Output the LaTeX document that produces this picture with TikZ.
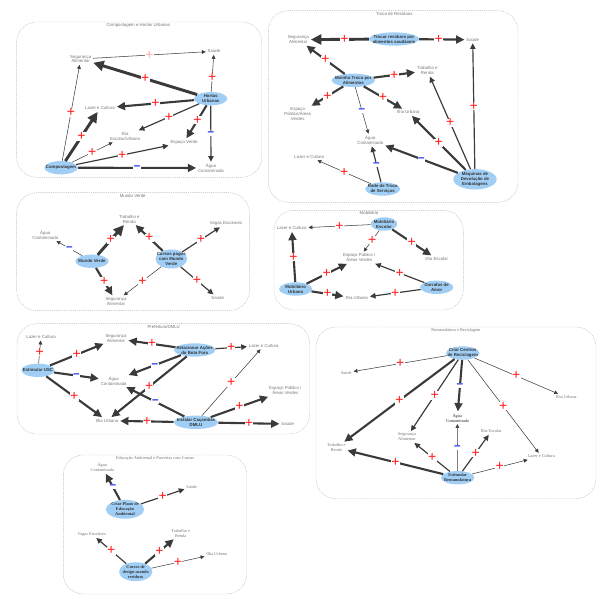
\documentclass[tikz,border=0pt]{standalone}
\usepackage{fontspec}
\setmainfont{Liberation Sans}
\newfontfamily\seriffam{Liberation Serif}
\usetikzlibrary{shapes.geometric,arrows.meta}
\definecolor{hubblue}{RGB}{160,206,245}
\definecolor{edgegray}{RGB}{58,58,58}
\definecolor{vargray}{RGB}{118,118,118}
\definecolor{plusred}{RGB}{255,25,25}
\definecolor{minusblue}{RGB}{25,45,230}
\newcommand{\smallest}{\fontsize{3.7}{4.2}\selectfont}

\begin{document}
\begin{tikzpicture}[
  x=0.03cm, y=-0.03cm,
  group/.style={draw=black!28, dash pattern=on 1pt off 0.8pt, line width=0.35pt, rounded corners=0.6cm},
  gtitle/.style={font=\smallest, text=black!55, inner sep=0.5pt, anchor=north},
  var/.style={font=\smallest, text=vargray, align=center, inner sep=1.5pt},
  hub/.style={ellipse, fill=hubblue, font=\smallest\bfseries, text=black!80, align=center,
    inner xsep=-3pt, inner ysep=0.2pt, minimum width=1cm, minimum height=0.4cm},
  gts/.style={gtitle, font=\seriffam\smallest},
  vs/.style={var, font=\seriffam\smallest},
  hs/.style={hub, font=\seriffam\smallest\bfseries},
  lnk/.style={draw=edgegray, -{Triangle[length=2pt 2.8, width=2pt 2.6]}},
  w1/.style={lnk, line width=0.45pt},
  w2/.style={lnk, line width=1pt},
  w3/.style={lnk, line width=1.8pt},
  w4/.style={lnk, line width=2.5pt},
  sgnp/.style={fill=white, inner sep=0.2pt, text=plusred, font=\fontsize{12}{12}\selectfont},
  sgnm/.style={fill=white, inner sep=0.5pt, text=minusblue, font=\fontsize{10}{10}\selectfont\bfseries}
]
\useasboundingbox (0,0) rectangle (597,600);

% Compostagem e Hortas Urbanas
\draw[group] (16.7,22) rectangle (261.7,177.3);
\node[gtitle] (t1) at (138.3,22.5) {Compostagem e Hortas Urbanas};
\node[var] (cSeg) at (80.7,59) {Segurança\\Alimentar};
\node[var] (cSau) at (214,51.3) {Saúde};
\node[hub] (cHor) at (210.7,98.7) {Hortas\\Urbanas};
\node[var] (cLaz) at (100,108.3) {Lazer e Cultura};
\node[var] (cIlh) at (125,136.3) {Ilha\\Escolar/Urbana};
\node[var] (cEsp) at (184,142.3) {Espaço Verde};
\node[hub] (cCom) at (61,167.7) {Compostagem};
\node[var] (cAgu) at (211,168) {Água\\Contaminada};
\draw[w1] (cSeg) -- node[sgnp, text=plusred!35] {+} (cSau);
\draw[w1] (cHor) -- node[sgnp, pos=0.4] {+} (cSau);
\draw[w4] (cHor) -- node[sgnp] {+} (cSeg);
\draw[w3] (cHor) -- node[sgnp] {+} (cLaz);
\draw[w2] (cHor) -- node[sgnp] {+} (cIlh);
\draw[w3] (cHor) -- node[sgnp, pos=0.45] {+} (cEsp);
\draw[w2] (cHor) -- node[sgnm] {--} (cAgu);
\draw[w1] (cCom) -- node[sgnp] {+} (cSeg);
\draw[w4] (cCom) -- node[sgnp] {+} (cLaz);
\draw[w1] (cCom) -- node[sgnp] {+} (cIlh);
\draw[w2] (cCom) -- node[sgnp] {+} (cEsp);
\draw[w3] (cCom) -- node[sgnm] {--} (cAgu);

% Troca de Residuos
\draw[group] (268.3,10.7) rectangle (518,202.3);
\node[gtitle] (t2) at (394.3,11.2) {Troca de Resíduos};
\node[hub, minimum width=1.4cm] (tTro) at (394,39) {Trocar resíduos por\\alimentos saudáveis};
\node[var] (tSeg) at (298.3,39.7) {Segurança\\Alimentar};
\node[var] (tSau) at (472.7,39.7) {Saúde};
\node[hub, minimum width=1.3cm] (tMoi) at (353.3,80.3) {Moinho Troca por\\Alimentos};
\node[var] (tTra) at (427.3,70.7) {Trabalho e\\Renda};
\node[var] (tEsp) at (297.7,114.3) {Espaço\\Público/Áreas\\Verdes};
\node[var] (tIlh) at (408.3,112.3) {Ilha Urbana};
\node[var] (tAgu) at (370.3,140) {Água\\Contaminada};
\node[var] (tLaz) at (309.3,156.7) {Lazer e Cultura};
\node[hub, minimum width=1.05cm] (tRed) at (382.7,189) {Rede de Troca\\de Serviços};
\node[hub, minimum width=1.3cm] (tMaq) at (475,179.3) {Máquinas de\\Devolução de\\Embalagens};
\draw[w4] (tTro) -- node[sgnp, pos=0.42] {+} (tSeg);
\draw[w3] (tTro) -- node[sgnp, pos=0.43] {+} (tSau);
\draw[w3] (tMoi) -- node[sgnp] {+} (tSeg);
\draw[w3] (tMoi) -- node[sgnp] {+} (tTra);
\draw[w3] (tMoi) -- node[sgnp] {+} (tEsp);
\draw[w3] (tMoi) -- node[sgnp] {+} (tIlh);
\draw[w1] (tMoi) -- node[sgnm] {--} (tAgu);
\draw[w1] (tRed) -- node[sgnp] {+} (tLaz);
\draw[w2] (tRed) -- node[sgnm] {--} (tAgu);
\draw[w3] (tMaq) -- node[sgnm] {--} (tAgu);
\draw[w3] (tMaq) -- node[sgnp] {+} (tIlh);
\draw[w2] (tMaq) -- node[sgnp] {+} (tTra);
\draw[w2] (tMaq) -- node[sgnp] {+} (tSau);

% Mundo Verde
\draw[group] (16.7,192.7) rectangle (249.3,310.7);
\node[gtitle] (t3) at (132.7,193.2) {Mundo Verde};
\node[var] (mTra) at (129.3,219) {Trabalho e\\Renda};
\node[var] (mAgu) at (45.3,234.7) {Água\\Contaminada};
\node[var] (mVag) at (226,223.3) {Vagas Escolares};
\node[hub] (mMun) at (92,261.3) {Mundo Verde};
\node[hub, minimum width=0.95cm] (mCur) at (171.3,259) {Cursos pagos\\com Mundo\\Verde};
\node[var] (mSeg) at (116,301.3) {Segurança\\Alimentar};
\node[var] (mSau) at (217.7,298) {Saúde};
\draw[w4] (mMun) -- node[sgnp] {+} (mTra);
\draw[w1] (mMun) -- node[sgnm] {--} (mAgu);
\draw[w3] (mMun) -- node[sgnp] {+} (mSeg);
\draw[w3] (mCur) -- node[sgnp] {+} (mTra);
\draw[w2] (mCur) -- node[sgnp] {+} (mVag);
\draw[w1] (mCur) -- node[sgnp] {+} (mSeg);
\draw[w2] (mCur) -- node[sgnp] {+} (mSau);

% Mobiliario
\draw[group] (274,210.3) rectangle (463.3,310);
\node[gtitle] (t4) at (369,210.8) {Mobiliário};
\node[hub, minimum width=0.8cm] (oEsc) at (384,224) {Mobiliário\\Escolar};
\node[var] (oLaz) at (291.7,228.3) {Lazer e Cultura};
\node[var] (oEsp) at (359.3,257.7) {Espaço Público /\\Áreas Verdes};
\node[var] (oIlE) at (436.7,259) {Ilha Escolar};
\node[hub] (oUrb) at (295.7,289) {Mobiliário\\Urbano};
\node[hub] (oGar) at (436.7,287.3) {Garrafas de\\Amor};
\node[var] (oIlU) at (356.7,298.3) {Ilha Urbana};
\draw[w1] (oEsc) -- node[sgnp] {+} (oLaz);
\draw[w1] (oEsc) -- node[sgnp, pos=0.45] {+} (oEsp);
\draw[w3] (oEsc) -- node[sgnp] {+} (oIlE);
\draw[w3] (oUrb) -- node[sgnp] {+} (oLaz);
\draw[w3] (oUrb) -- node[sgnp] {+} (oEsp);
\draw[w3] (oUrb) -- node[sgnp] {+} (oIlU);
\draw[w2] (oGar) -- node[sgnp] {+} (oEsp);
\draw[w2] (oGar) -- node[sgnp] {+} (oIlU);

% Prefeitura/DMLU
\draw[group] (17,323.7) rectangle (309.7,434);
\node[gtitle] (t5) at (163.7,324.2) {Prefeitura/DMLU};
\node[var] (pLaz) at (41,337) {Lazer e Cultura};
\node[hub] (pEst) at (38,370.3) {Estimular USC};
\node[var] (pSeg) at (116,338.7) {Segurança\\Alimentar};
\node[hub] (pRel) at (194.7,350) {Relacionar Ações\\do Bota Fora};
\node[var] (pLzR) at (263.7,345.7) {Lazer e Cultura};
\node[var] (pAgu) at (113.7,380.7) {Água\\Contaminada};
\node[var] (pEsp) at (285.3,390.7) {Espaço Público /\\Áreas Verdes};
\node[var] (pIlh) at (107,420.7) {Ilha Urbana};
\node[hub] (pIns) at (196,422.3) {Instalar Caçambas\\DMLU};
\node[var] (pSau) at (287.7,424) {Saúde};
\draw[w1] (pEst) -- node[sgnp] {+} (pLaz);
\draw[w3] (pEst) -- node[sgnp] {+} (pSeg);
\draw[w3] (pEst) -- node[sgnm] {--} (pAgu);
\draw[w3] (pEst) -- node[sgnp] {+} (pIlh);
\draw[w3] (pRel) -- node[sgnp] {+} (pSeg);
\draw[w2] (pRel) -- node[sgnp] {+} (pLzR);
\draw[w3] (pRel) -- node[sgnm] {--} (pAgu);
\draw[w3] (pRel) -- node[sgnp] {+} (pIlh);
\draw[w3] (pIns) -- node[sgnm] {--} (pAgu);
\draw[w1] (pIns) -- node[sgnp] {+} (pLzR);
\draw[w3] (pIns) -- node[sgnp] {+} (pEsp);
\draw[w3] (pIns) -- node[sgnp] {+} (pIlh);
\draw[w3] (pIns) -- node[sgnp] {+} (pSau);

% Remanufatura e Reciclagem
\draw[group] (316,327) rectangle (596,498.7);
\node[gts] (t6) at (456,327.5) {Remanufatura e Reciclagem};
\node[hub] (rCri) at (462.7,353) {Criar Centros\\de Reciclagem};
\node[vs] (rSau) at (346.3,372.7) {Saúde};
\node[vs] (rIlU) at (566.3,397.3) {Ilha Urbana};
\node[vs, text=black!85] (rAgu) at (457.3,417.7) {Água\\Contaminada};
\node[vs] (rIlE) at (491.3,431.3) {Ilha Escolar};
\node[vs] (rSeg) at (407,437) {Segurança\\Alimentar};
\node[vs] (rTra) at (336.3,447.7) {Trabalho e\\Renda};
\node[vs] (rLaz) at (541.3,456.3) {Lazer e Cultura};
\node[hs] (rEst) at (457.7,477.7) {Estimular\\Remanufatura};
\draw[w1] (rCri) -- node[sgnp] {+} (rSau);
\draw[w1] (rCri) -- node[sgnp] {+} (rIlU);
\draw[w3] (rCri) -- node[sgnm] {--} (rAgu);
\draw[w3] (rCri) -- node[sgnp] {+} (rTra);
\draw[w2] (rCri) -- node[sgnp] {+} (rSeg);
\draw[w1] (rCri) -- node[sgnp] {+} (rLaz);
\draw[w3] (rEst) -- node[sgnp] {+} (rTra);
\draw[w2] (rEst) -- node[sgnp] {+} (rSeg);
\draw[w1] (rEst) -- node[sgnm] {--} (rAgu);
\draw[w2] (rEst) -- node[sgnp] {+} (rIlE);
\draw[w1] (rEst) -- node[sgnp] {+} (rLaz);

% Educacao Ambiental e Parcerias com Cursos
\draw[group] (63.3,455) rectangle (246.7,594);
\node[gts] (t7) at (155,455.5) {Educação Ambiental e Parcerias com Cursos};
\node[vs] (eAgu) at (102.3,467.3) {Água\\Contaminada};
\node[vs] (eSau) at (191.7,486.7) {Saúde};
\node[hs, minimum width=1.15cm] (ePla) at (125,509.3) {Criar Plano de\\Educação\\Ambiental};
\node[vs] (eVag) at (91.7,534) {Vagas Escolares};
\node[vs] (eTra) at (180.7,533.3) {Trabalho e\\Renda};
\node[vs] (eIlh) at (216.7,553.7) {Ilha Urbana};
\node[hs] (eCur) at (135.7,571.7) {Cursos de\\design usando\\resíduos};
\draw[w3] (ePla) -- node[sgnm] {--} (eAgu);
\draw[w2] (ePla) -- node[sgnp] {+} (eSau);
\draw[w2] (eCur) -- node[sgnp] {+} (eVag);
\draw[w3] (eCur) -- node[sgnp] {+} (eTra);
\draw[w1] (eCur) -- node[sgnp] {+} (eIlh);

\end{tikzpicture}
\end{document}
